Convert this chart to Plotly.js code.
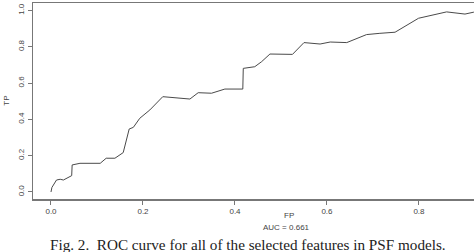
<!DOCTYPE html>
<html><head><meta charset="utf-8">
<script src="https://cdn.plot.ly/plotly-3.0.1.min.js"></script>
<style>html,body{margin:0;padding:0;background:#fff;}#chart{width:474px;height:252px;}</style>
</head><body><div id="chart"></div>
<script>
var fpValues = [0, 0.002, 0.012, 0.02, 0.027, 0.041, 0.045, 0.046, 0.063, 0.107, 0.12, 0.139, 0.157, 0.17, 0.179, 0.193, 0.215, 0.243, 0.302, 0.32, 0.349, 0.378, 0.417, 0.418, 0.443, 0.458, 0.476, 0.525, 0.55, 0.585, 0.607, 0.643, 0.686, 0.715, 0.748, 0.799, 0.831, 0.86, 0.9, 0.918, 1.0];
var tpValues = [0, 0.025, 0.066, 0.07, 0.066, 0.084, 0.09, 0.149, 0.158, 0.158, 0.186, 0.186, 0.217, 0.347, 0.356, 0.406, 0.452, 0.525, 0.512, 0.547, 0.544, 0.567, 0.567, 0.681, 0.69, 0.718, 0.76, 0.758, 0.823, 0.815, 0.826, 0.823, 0.867, 0.874, 0.88, 0.957, 0.975, 0.992, 0.98, 0.99, 1.0];
var tickVals = [0, 0.2, 0.4, 0.6, 0.8, 1.0];
var tickText = ["0.0", "0.2", "0.4", "0.6", "0.8", "1.0"];
var xLabel = "FP";
var yLabel = "TP";
var aucText = "AUC = 0.661";
var caption = "Fig. 2.  ROC curve for all of the selected features in PSF models.";

var trace = {x: fpValues, y: tpValues, type: 'scatter', mode: 'lines',
  line: {color: '#4a4a4a', width: 1}, hoverinfo: 'none'};
var axFont = {family: 'Liberation Sans, Arial, sans-serif', size: 8, color: '#444'};
var layout = {
  width: 474, height: 252,
  margin: {l: 33, r: 0, t: 3, b: 53},
  paper_bgcolor: '#fff', plot_bgcolor: '#fff',
  showlegend: false,
  xaxis: {range: [-0.0391, 0.9196], tickvals: tickVals, ticktext: tickText,
    showgrid: false, zeroline: false, showline: true, mirror: true,
    linecolor: '#777', linewidth: 1.5, ticks: 'outside', ticklen: 4, tickcolor: '#777',
    tickfont: axFont, fixedrange: true},
  yaxis: {range: [-0.0386, 1.041], tickvals: tickVals, ticktext: tickText,
    showgrid: false, zeroline: false, showline: true,
    linecolor: '#777', linewidth: 1.5, ticks: 'outside', ticklen: 4, tickcolor: '#777',
    tickangle: -90, tickfont: axFont, fixedrange: true},
  annotations: [
    {text: yLabel, xref: 'paper', yref: 'paper', x: -0.062, y: 0.5, xanchor: 'center', yanchor: 'middle',
      textangle: -90, showarrow: false, font: axFont},
    {text: xLabel, xref: 'paper', yref: 'paper', x: 0.58, y: 0, yshift: -16, xanchor: 'center', yanchor: 'middle',
      showarrow: false, font: axFont},
    {text: aucText, xref: 'paper', yref: 'paper', x: 0.575, y: 0, yshift: -28, xanchor: 'center', yanchor: 'middle',
      showarrow: false, font: axFont},
    {text: caption, xref: 'paper', yref: 'paper', x: 0.4875, y: 0, yshift: -45, xanchor: 'center', yanchor: 'middle',
      showarrow: false, font: {family: 'Liberation Serif, Times New Roman, serif', size: 15.2, color: '#222'}}
  ]
};
Plotly.newPlot('chart', [trace], layout, {displayModeBar: false, staticPlot: true});
</script></body></html>
